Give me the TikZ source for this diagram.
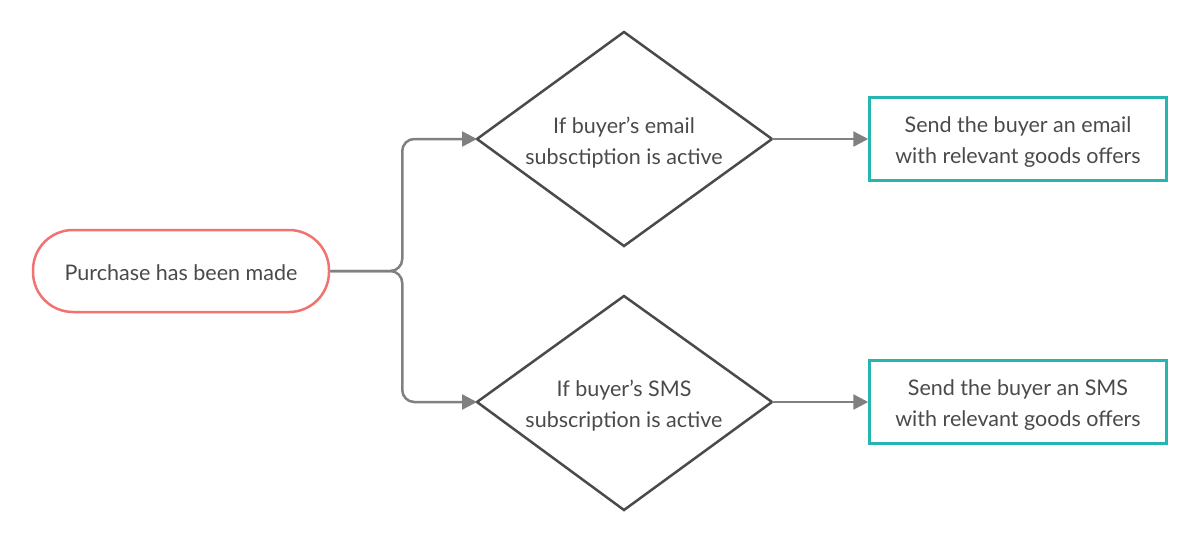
\documentclass[tikz,border=0pt]{standalone}
\usepackage{fontspec}
\setmainfont{Lato}[Ligatures=ResetAll]
\usetikzlibrary{arrows.meta}
\definecolor{txt}{HTML}{4A4A4A}
\definecolor{red1}{HTML}{F27272}
\definecolor{teal1}{HTML}{26B5B0}
\definecolor{conn}{HTML}{808080}
\begin{document}
\begin{tikzpicture}[x=1pt,y=-1pt,
  every node/.style={font=\fontsize{21.5}{31}\selectfont,text=txt,align=center},
  startbox/.style={draw=red1,line width=2.5pt,rounded corners=40pt,minimum width=296pt,minimum height=82pt,fill=white},
  dia/.style={draw=txt,line width=2.5pt},
  actbox/.style={draw=teal1,line width=2.5pt,minimum width=297pt,minimum height=83pt},
  link/.style={draw=conn,line width=2.5pt,-{Triangle[length=15pt,width=15pt]}}]
\useasboundingbox (0,0) rectangle (1200,542);
\node[startbox] (s) at (181,271) {};
\node at (181,273) {Purchase has been made};
\draw[dia] (624,32) -- (772,139) -- (624,246) -- (477,139) -- cycle;
\node (d1) at (624,143) {If buyer's email\\subsctiption is active};
\coordinate (d1w) at (477,139); \coordinate (d1e) at (772,139);
\draw[dia] (624,296) -- (772,402) -- (624,510) -- (477,402) -- cycle;
\node (d2) at (624,406) {If buyer's SMS\\subscription is active};
\coordinate (d2w) at (477,402); \coordinate (d2e) at (772,402);
\node[actbox] (b1) at (1018,139) {};
\node at (1018,142) {Send the buyer an email\\with relevant goods offers};
\node[actbox] (b2) at (1018,402) {};
\node at (1018,405) {Send the buyer an SMS\\with relevant goods offers};
\draw[link,rounded corners=12pt] (s.east) -- ++(72,0) |- (d1w);
\draw[link,rounded corners=12pt] (s.east) -- ++(72,0) |- (d2w);
\draw[link] (d1e) -- (b1.west);
\draw[link] (d2e) -- (b2.west);
\end{tikzpicture}
\end{document}
